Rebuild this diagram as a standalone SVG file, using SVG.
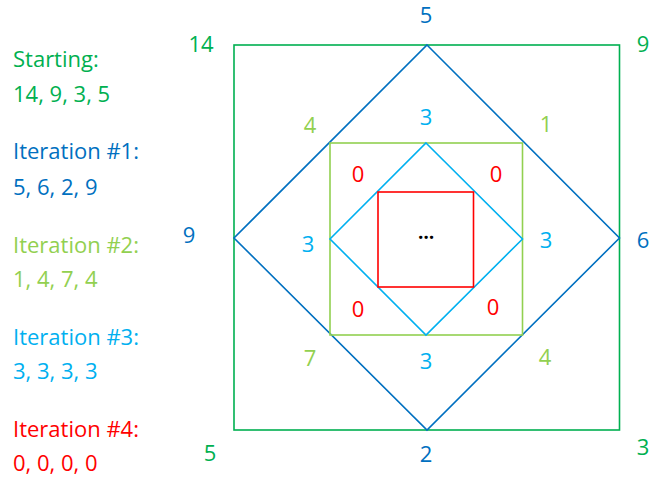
<svg xmlns="http://www.w3.org/2000/svg" width="666" height="490" viewBox="0 0 666 490">
<style>
text{font-family:"Open Sans","Liberation Sans",sans-serif;font-size:22px}
.l{text-anchor:start}
.c{text-anchor:middle}
.g{fill:#00B050}.b{fill:#0070C0}.lg{fill:#92D050}.cy{fill:#00B0F0}.r{fill:#FF0000}.k{fill:#000}
.s{fill:none;stroke-width:1.6}
</style>
<rect width="666" height="490" fill="#fff"/>
<g id="legend">
<text class="l g" x="13" y="67">Starting:</text>
<text class="l g" x="13" y="102">14, 9, 3, 5</text>
<text class="l b" x="13" y="159">Iteration #1:</text>
<text class="l b" x="13" y="195">5, 6, 2, 9</text>
<text class="l lg" x="13" y="253">Iteration #2:</text>
<text class="l lg" x="13" y="287">1, 4, 7, 4</text>
<text class="l cy" x="13" y="345">Iteration #3:</text>
<text class="l cy" x="13" y="379">3, 3, 3, 3</text>
<text class="l r" x="13" y="437">Iteration #4:</text>
<text class="l r" x="13" y="471">0, 0, 0, 0</text>
</g>
<g id="connectors">
<rect id="start-square" class="s" x="234" y="45" width="385.5" height="385" stroke="#00B050"/>
<polygon id="iter1-diamond" class="s" points="427,45 619.5,238 427,430 234,238" stroke="#0070C0"/>
<rect id="iter2-square" class="s" x="330" y="143" width="192.5" height="192" stroke="#92D050"/>
<polygon id="iter3-diamond" class="s" points="426,143 522.5,239 426,335 330,239" stroke="#00B0F0"/>
<rect id="iter4-square" class="s" x="378" y="192" width="95.5" height="95" stroke="#FF0000"/>
</g>
<g id="start-labels">
<text class="c g" x="201" y="52">14</text>
<text class="c g" x="643" y="52">9</text>
<text class="c g" x="643" y="455">3</text>
<text class="c g" x="210" y="461">5</text>
</g>
<g id="iter1-labels">
<text class="c b" x="426" y="23">5</text>
<text class="c b" x="643" y="248">6</text>
<text class="c b" x="426" y="462">2</text>
<text class="c b" x="189" y="243">9</text>
</g>
<g id="iter2-labels">
<text class="c lg" x="546" y="132">1</text>
<text class="c lg" x="545" y="365">4</text>
<text class="c lg" x="310" y="366">7</text>
<text class="c lg" x="310" y="133">4</text>
</g>
<g id="iter3-labels">
<text class="c cy" x="426" y="125">3</text>
<text class="c cy" x="546" y="248">3</text>
<text class="c cy" x="426" y="369">3</text>
<text class="c cy" x="308" y="252">3</text>
</g>
<g id="iter4-labels">
<text class="c r" x="358" y="182">0</text>
<text class="c r" x="496" y="182">0</text>
<text class="c r" x="493" y="315">0</text>
<text class="c r" x="358" y="317">0</text>
<text class="c k" x="426" y="239" style="font-size:19px;font-weight:bold">…</text>
</g>
</svg>
